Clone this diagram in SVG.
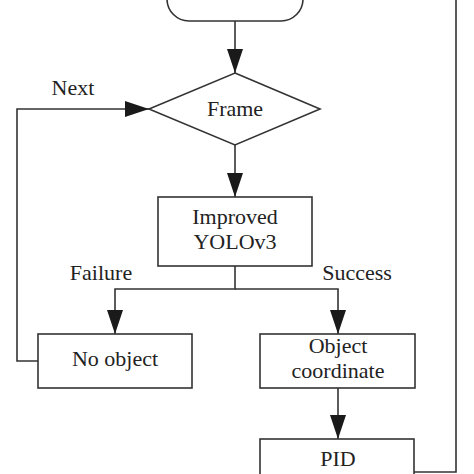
<svg xmlns="http://www.w3.org/2000/svg" width="474" height="474" viewBox="0 0 474 474">
<defs>
<marker id="ah" markerUnits="userSpaceOnUse" markerWidth="24" markerHeight="16" refX="24" refY="8" viewBox="0 0 24 16" orient="auto">
<path d="M0,0 L24,8 L0,16 Z" fill="#1a1a1a"/>
</marker>
</defs>
<style>
.n{fill:#fff;stroke:#333;stroke-width:1.6}
.c{fill:none;stroke:#333;stroke-width:1.6}
.t{font-family:"Liberation Serif","Times New Roman",serif;font-size:22px;fill:#222;text-anchor:middle}
</style>
<rect width="474" height="474" fill="#fff"/>
<g id="connectors">
<path class="c" d="M235,21 V73" marker-end="url(#ah)"/>
<path class="c" d="M235,145 V197" marker-end="url(#ah)"/>
<path class="c" d="M235,266 V289 H115 V334" marker-end="url(#ah)"/>
<path class="c" d="M235,289 H338 V334" marker-end="url(#ah)"/>
<path class="c" d="M338,388 V439" marker-end="url(#ah)"/>
<path class="c" d="M38,361 H17 V109 H149" marker-end="url(#ah)"/>
<path class="c" d="M414,472 H456 V0"/>
<text class="t" x="73" y="95">Next</text>
<text class="t" x="101" y="280">Failure</text>
<text class="t" x="357" y="280">Success</text>
</g>
<g id="start">
<rect class="n" x="167" y="-40" width="136" height="61" rx="22"/>
</g>
<g id="frame">
<polygon class="n" points="235,73 320,109 235,145 149,109"/>
<text class="t" x="235" y="116">Frame</text>
</g>
<g id="yolo">
<rect class="n" x="158" y="197" width="154" height="69"/>
<text class="t" x="235" y="224">Improved</text>
<text class="t" x="235" y="249">YOLOv3</text>
</g>
<g id="noobject">
<rect class="n" x="38" y="334" width="154" height="54"/>
<text class="t" x="115" y="366">No object</text>
</g>
<g id="coord">
<rect class="n" x="260" y="334" width="155" height="54"/>
<text class="t" x="338" y="353">Object</text>
<text class="t" x="338" y="378">coordinate</text>
</g>
<g id="pid">
<rect class="n" x="260" y="439" width="154" height="50"/>
<text class="t" x="338" y="466">PID</text>
</g>
</svg>
